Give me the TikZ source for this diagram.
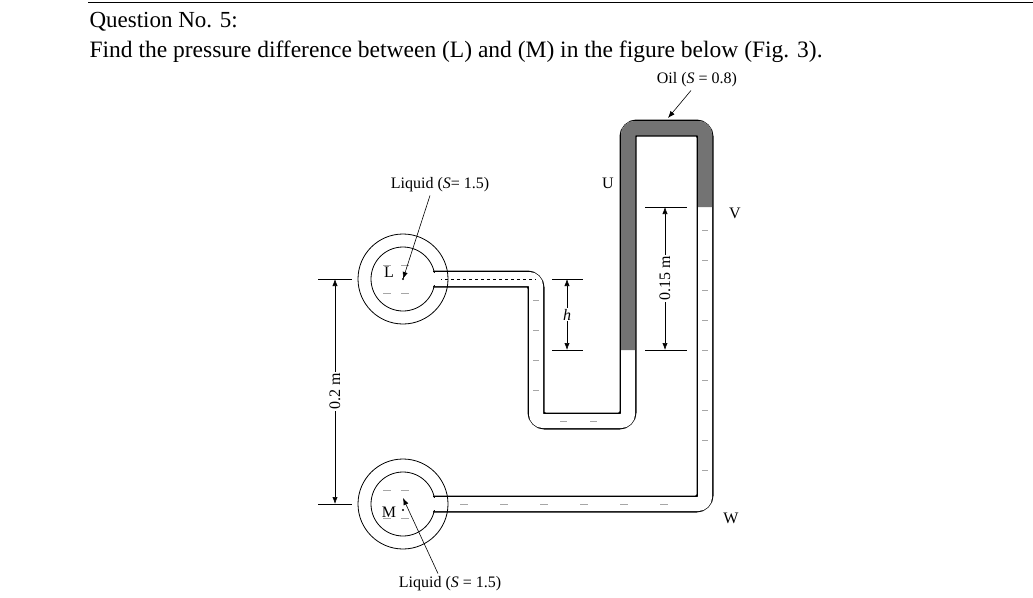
\documentclass[tikz,border=0pt]{standalone}
\usepackage{fontspec}
\setmainfont{Liberation Serif}
\usetikzlibrary{arrows.meta}

\tikzset{
  tubeout/.style={line width=17pt, rounded corners=9pt},
  tubein/.style={line width=14pt, white, rounded corners=7pt},
  oil/.style={line width=14pt, black!55, rounded corners=7pt},
  dim/.style={{Latex[length=7pt]}-{Latex[length=7pt]}, line width=0.6pt},
  lab/.style={font=\fontsize{16}{18}\selectfont, inner sep=1pt}
}

\begin{document}
\begin{tikzpicture}[x=1pt,y=-1pt]
\useasboundingbox (0,0) rectangle (1033,597);
\draw[line width=1pt] (88,2) -- (1033,2);
\node[anchor=west, font=\fontsize{23}{26}\selectfont] (title) at (86,22) {Question No. 5:};
\node[anchor=west, font=\fontsize{23.5}{26}\selectfont] (task) at (86,52) {Find the pressure difference between (L) and (M) in the figure below (Fig. 3).};

% points of the pipes
\coordinate (L) at (403,279);
\coordinate (M) at (403,504);

% pipe L to U
\draw[tubeout] (433,279) -- (536,279) -- (536,421) -- (628,421) -- (628,128) -- (705,128) -- (705,504) -- (433,504);
\draw[tubein] (431,279) -- (536,279) -- (536,421) -- (628,421) -- (628,128) -- (705,128) -- (705,504) -- (431,504);
\draw[oil] (628,350) -- (628,128) -- (705,128) -- (705,207);
\draw[dashed, line width=0.6pt] (433,279) -- (536,279);
\foreach \y in {300,330,360,390} \draw[black!35] (533,\y) -- (539,\y);
\foreach \y in {230,260,...,480} \draw[black!35] (702,\y) -- (708,\y);
\foreach \x in {560,590} \draw[black!35] (\x,421) -- (\x+7,421);
\foreach \x in {460,500,...,680} \draw[black!35] (\x,504) -- (\x+8,504);

% vessels
\foreach \c in {L,M}{
  \draw[line width=0.8pt] (\c) circle (45);
  \draw[line width=0.8pt] (\c) circle (32);
  \fill[white] (\c) ++(28,-6) rectangle ++(10,12);
  \foreach \dy in {-14,14} \draw[black!35] (\c) ++(-20,\dy) -- ++(8,0) ++(10,0) -- ++(8,0);
}
\fill (L) circle (1.2);
\fill (M) ++(0,6) circle (1.2);
\node[lab] (Ltxt) at (389,272) {L};
\node[lab] (Mtxt) at (389,512) {M};

% labels
\node[lab] (liqL) at (440,185) {Liquid (\textit{S}= 1.5)};
\node[lab] (liqM) at (450,584) {Liquid (\textit{S} = 1.5)};
\node[lab] (oiltxt) at (697,80) {Oil (\textit{S} = 0.8)};
\node[lab] (U) at (608,183) {U};
\node[lab] (V) at (735,213) {V};
\node[lab] (W) at (731,518) {W};
\draw[-{Latex[length=7pt]}, line width=0.6pt] (liqL.south) ++(-10,2) -- (L);
\draw[-{Latex[length=7pt]}, line width=0.6pt] (liqM.north) ++(-12,-2) -- ([yshift=6pt]M);
\draw[-{Latex[length=7pt]}, line width=0.6pt] (oiltxt.south) ++(-6,2) -- (668,118);

% dimensions
\coordinate (dA) at (335,279);
\coordinate (dB) at (335,504);
\draw[line width=0.6pt] (318,279) -- (352,279) (318,504) -- (352,504);
\draw[dim] (dA) -- node[lab, fill=white, rotate=90] (d02) {0.2 m} (dB);
\coordinate (hA) at (567,279);
\coordinate (hB) at (567,350);
\draw[line width=0.6pt] (552,279) -- (583,279) (552,350) -- (583,350);
\draw[dim] (hA) -- node[lab, fill=white] (htxt) {\textit{h}} (hB);
\coordinate (sA) at (665,207);
\coordinate (sB) at (665,350);
\draw[line width=0.6pt] (645,207) -- (687,207) (645,350) -- (687,350);
\draw[dim] (sA) -- node[lab, fill=white, rotate=90] (d015) {0.15 m} (sB);
\end{tikzpicture}
\end{document}
